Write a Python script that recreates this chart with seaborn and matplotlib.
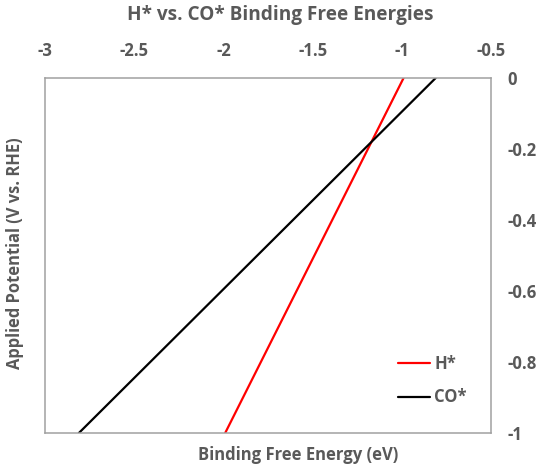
import matplotlib
matplotlib.use("Agg")
import matplotlib.pyplot as plt
import seaborn as sns
import pandas as pd

# Data
series_names = ["H*", "CO*"]
h_energy = [-1.99, -0.99]
h_potential = [-1.0, 0.0]
co_energy = [-2.81, -0.81]
co_potential = [-1.0, 0.0]
x_ticks = [-3, -2.5, -2, -1.5, -1, -0.5]
y_ticks = [0, -0.2, -0.4, -0.6, -0.8, -1]

df = pd.DataFrame({
    "energy": h_energy + co_energy,
    "potential": h_potential + co_potential,
    "series": [series_names[0]] * len(h_energy) + [series_names[1]] * len(co_energy),
})

sns.set_style("white")
plt.rcParams["font.family"] = ["Open Sans", "DejaVu Sans"]
text_color = "#595959"
W, H = 550, 466

fig = plt.figure(figsize=(5.5, 4.66), dpi=100)
ax = fig.add_axes([45 / W, 1 - 433 / H, 446 / W, 355 / H])

sns.lineplot(data=df, x="energy", y="potential", hue="series",
             palette={"H*": "#FF0000", "CO*": "#000000"}, linewidth=1.6,
             ax=ax, legend=True)

ax.set_xlim(-3, -0.5)
ax.set_ylim(-1, 0)
ax.set_xticks(x_ticks)
ax.set_xticklabels([f"{t:g}" for t in x_ticks])
ax.set_yticks(y_ticks)
ax.set_yticklabels([f"{t:g}" for t in y_ticks])
ax.xaxis.tick_top()
ax.yaxis.tick_right()
ax.tick_params(axis="both", length=0, labelsize=12, labelcolor=text_color)
ax.tick_params(axis="x", pad=13)
ax.tick_params(axis="y", pad=12)
for lbl in ax.get_xticklabels() + ax.get_yticklabels():
    lbl.set_fontweight("bold")
for lbl in ax.get_yticklabels():
    lbl.set_horizontalalignment("left")

for s in ax.spines.values():
    s.set_color("#A0A0A0")
    s.set_linewidth(1.1)

ax.set_xlabel("")
ax.set_ylabel("")
xl = fig.text(298 / W, 1 - 455 / H, "Binding Free Energy (eV)", ha="center", va="center",
              fontsize=12, fontweight="bold", color=text_color)
yl = fig.text(15 / W, 1 - 253 / H, "Applied Potential (V vs. RHE)", ha="center", va="center",
              rotation=90, fontsize=12, fontweight="bold", color=text_color)
tl = fig.text(280 / W, 1 - 15 / H, "H* vs. CO* Binding Free Energies", ha="center", va="center",
              fontsize=13, fontweight="bold", color=text_color)

# fit label sizes to the reference extents
fig.canvas.draw()
r = fig.canvas.get_renderer()
for t, target, dim in [(xl, 200, "w"), (yl, 232, "h"), (tl, 307, "w")]:
    for _ in range(3):
        bb = t.get_window_extent(r)
        cur = bb.width if dim == "w" else bb.height
        t.set_fontsize(t.get_fontsize() * target / cur)

leg = ax.legend(loc="center left", bbox_to_anchor=(390 / W, 1 - 380.5 / H),
                bbox_transform=fig.transFigure, frameon=False, borderpad=0,
                fontsize=12, handlelength=1.9, handletextpad=0.25, labelspacing=0.95)
for t in leg.get_texts():
    t.set_color(text_color)
    t.set_fontweight("bold")

fig.savefig("out.png", dpi=100)
